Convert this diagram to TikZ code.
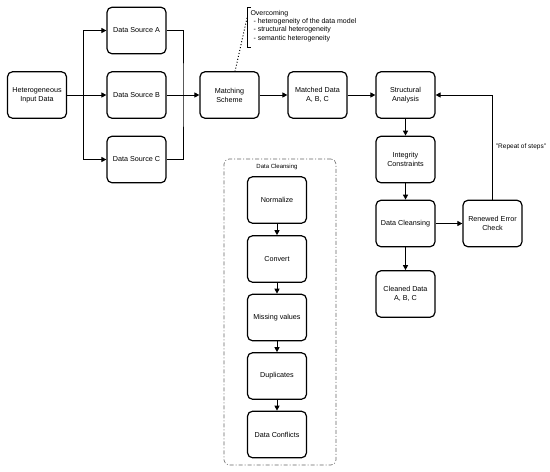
\documentclass[tikz,border=0pt]{standalone}
\usepackage{fontspec}
\setmainfont{Liberation Sans}
\usetikzlibrary{arrows.meta}

\begin{document}
\begin{tikzpicture}[x=1pt,y=-1pt,line width=1pt,
  box/.style={draw,line width=1.2pt,rounded corners=5pt,minimum width=59pt,minimum height=46.5pt,align=center,inner sep=1pt,font=\fontsize{7.2}{9}\selectfont},
  link/.style={line width=0.9pt,-{Triangle[length=5pt,width=5pt]}},
  group/.style={draw=black!60,dash pattern=on 4pt off 2pt on 1pt off 2pt,line width=0.6pt,rounded corners=5pt,minimum width=112pt,minimum height=306pt},
  every node/.style={scale=1}]

\useasboundingbox (0,0) rectangle (550,472);

\node[box] (input) at (37,95) {Heterogeneous\\Input Data};
\node[box] (srcA) at (136.5,30.5) {Data Source A};
\node[box] (srcB) at (136.5,95) {Data Source B};
\node[box] (srcC) at (136.5,159.5) {Data Source C};
\node[box] (match) at (229.5,95) {Matching\\Scheme};
\node[box] (matched) at (317.5,95) {Matched Data\\A, B, C};
\node[box] (struct) at (405.5,95) {Structural\\Analysis};
\node[box] (integ) at (405.5,159.5) {Integrity\\Constraints};
\node[box] (cleanse) at (405.5,223.5) {Data Cleansing};
\node[box] (renew) at (492.5,223.5) {Renewed Error\\Check};
\node[box] (cleaned) at (405.5,294) {Cleaned Data\\A, B, C};

\coordinate (split) at (83,95);
\coordinate (merge) at (183,95);
\draw[link] (input) -- (srcB);
\draw[link] (split) |- (srcA);
\draw[link] (split) |- (srcC);
\draw[line width=0.9pt] (srcA.east) -| (merge) |- (srcC.east);
\draw[link] (srcB) -- (match);
\draw[link] (match) -- (matched);
\draw[link] (matched) -- (struct);
\draw[link] (struct) -- (integ);
\draw[link] (integ) -- (cleanse);
\draw[link] (cleanse) -- (cleaned);
\draw[link] (cleanse) -- (renew);
\draw[link] (renew.north) |- (struct.east);
\node[font=\fontsize{6.5}{8}\selectfont] (repeat) at (521,147) {"Repeat of steps"};

% annotation
\draw[line width=0.9pt] (251,7) -- (247,7) -- (247,47) -- (251,47);
\node[anchor=north west,align=left,inner sep=0pt,font=\fontsize{7}{8.4}\selectfont] (note) at (250,9.5)
  {Overcoming\\\hspace*{3pt}- heterogeneity of the data model\\\hspace*{3pt}- structural heterogeneity\\\hspace*{3pt}- semantic heterogeneity};
\coordinate (notefoot) at (235,71.5);
\coordinate (notehead) at (247,18);
\draw[dotted,line width=1pt] (notefoot) -- (notehead);

% data cleansing steps
\node[group] (steps) at (280,312) {};
\node[font=\fontsize{6}{7}\selectfont] (stepstitle) at (277,167) {Data Cleansing};
\node[box] (norm) at (277,200) {Normalize};
\node[box] (conv) at (277,259) {Convert};
\node[box] (miss) at (277,317.5) {Missing values};
\node[box] (dupl) at (277,376) {Duplicates};
\node[box] (confl) at (277,434.5) {Data Conflicts};
\foreach \a/\b in {norm/conv,conv/miss,miss/dupl,dupl/confl}
  \draw[link] (\a) -- (\b);

\end{tikzpicture}
\end{document}
